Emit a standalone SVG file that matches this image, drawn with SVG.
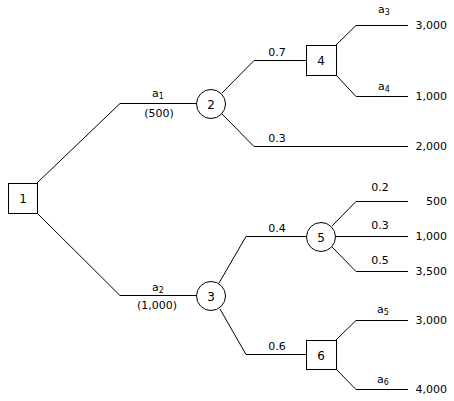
<svg xmlns="http://www.w3.org/2000/svg" width="454" height="401" viewBox="0 0 454 401">
<style>
.e{fill:none;stroke:#000;stroke-width:1}
.n{fill:#fff;stroke:#000;stroke-width:1}
text{font-family:"DejaVu Sans",Verdana,sans-serif;font-size:11px;fill:#000}
.c{text-anchor:middle}
.r{text-anchor:end}
.s{font-size:8px}
.k{font-size:12px;text-anchor:middle}
</style>
<rect width="454" height="401" fill="#fff"/>
<g id="connectors">
<polyline class="e" points="37,183 120,103.5 197,103.5"/>
<polyline class="e" points="37,213 120,295.5 197,295.5"/>
<polyline class="e" points="222,93 254,60.5 306,60.5"/>
<polyline class="e" points="222,114 254,146.5 408,146.5"/>
<polyline class="e" points="336,45 356,25.5 408,25.5"/>
<polyline class="e" points="336,75 356,96.5 408,96.5"/>
<polyline class="e" points="219,283 246,236.5 306,236.5"/>
<polyline class="e" points="220,309 246,354.5 306,354.5"/>
<polyline class="e" points="332,226 356,201.5 408,201.5"/>
<polyline class="e" points="336,236.5 408,236.5"/>
<polyline class="e" points="332,247 356,271.5 408,271.5"/>
<polyline class="e" points="336,340 356,320.5 408,320.5"/>
<polyline class="e" points="336,369 356,389.5 408,389.5"/>
</g>
<g id="labels">
<text x="152" y="97">a<tspan class="s" dy="2">1</tspan></text>
<text class="c" x="159" y="117">(500)</text>
<text x="152" y="291">a<tspan class="s" dy="2">2</tspan></text>
<text class="c" x="157" y="309">(1,000)</text>
<text class="c" x="277" y="56">0.7</text>
<text class="c" x="277" y="142">0.3</text>
<text class="c" x="277" y="232">0.4</text>
<text class="c" x="277" y="350">0.6</text>
<text x="378" y="13">a<tspan class="s" dy="2">3</tspan></text>
<text x="378" y="90">a<tspan class="s" dy="2">4</tspan></text>
<text x="377" y="313">a<tspan class="s" dy="2">5</tspan></text>
<text x="377" y="383">a<tspan class="s" dy="2">6</tspan></text>
<text class="c" x="380" y="191">0.2</text>
<text class="c" x="380" y="229">0.3</text>
<text class="c" x="380" y="264">0.5</text>
<text class="r" x="447" y="29">3,000</text>
<text class="r" x="447" y="100">1,000</text>
<text class="r" x="447" y="150">2,000</text>
<text class="r" x="447" y="205">500</text>
<text class="r" x="447" y="240">1,000</text>
<text class="r" x="447" y="275">3,500</text>
<text class="r" x="447" y="324">3,000</text>
<text class="r" x="447" y="393">4,000</text>
</g>
<g id="node1"><rect class="n" x="8.5" y="183.5" width="29" height="30"/><text class="k" x="23" y="203">1</text></g>
<g id="node2"><circle class="n" cx="211" cy="104" r="14.5"/><text class="k" x="211" y="108.5">2</text></g>
<g id="node3"><circle class="n" cx="211" cy="296" r="14.5"/><text class="k" x="211" y="300.5">3</text></g>
<g id="node4"><rect class="n" x="306.5" y="45.5" width="30" height="30"/><text class="k" x="321" y="65">4</text></g>
<g id="node5"><circle class="n" cx="321" cy="237" r="14.5"/><text class="k" x="321" y="241.5">5</text></g>
<g id="node6"><rect class="n" x="306.5" y="340.5" width="30" height="29"/><text class="k" x="321" y="359.5">6</text></g>
</svg>
